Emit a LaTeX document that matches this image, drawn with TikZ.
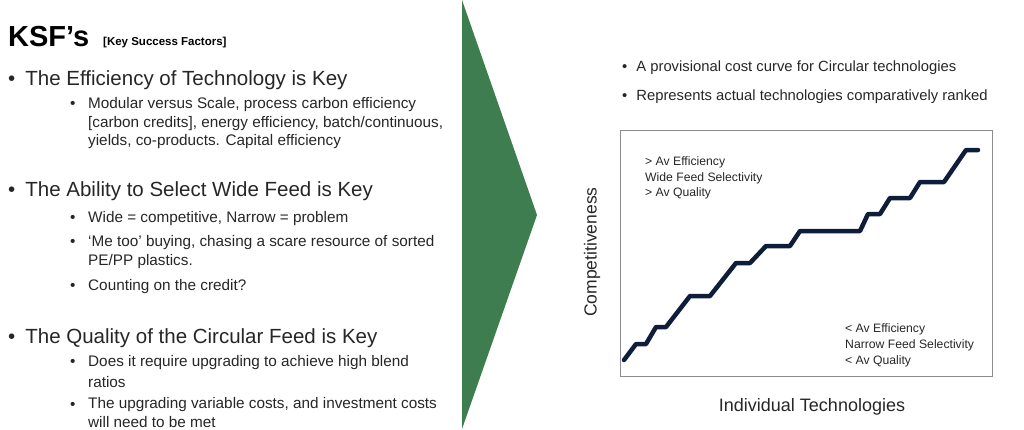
\documentclass[tikz,border=0pt]{standalone}
\usepackage{fontspec}
\setmainfont{Liberation Sans}
\definecolor{ink}{HTML}{262626}
\definecolor{arrowgreen}{HTML}{3E7D4F}
\definecolor{navy}{HTML}{0E1E3A}
\tikzset{
  head/.style={anchor=west,inner sep=0pt,text=ink,font=\fontsize{20.5}{23}\selectfont},
  sub/.style={anchor=west,inner sep=0pt,text=ink,font=\fontsize{15.3}{17}\selectfont},
  note/.style={anchor=west,inner sep=0pt,text=ink,font=\fontsize{12.2}{14}\selectfont},
}
\begin{document}
\begin{tikzpicture}[x=1pt,y=-1pt]
\useasboundingbox (0,0) rectangle (1024,429);
% left column
\node[anchor=west,inner sep=0pt,font=\bfseries\fontsize{29}{31}\selectfont] (title) at (8,37) {KSF’s};
\node[anchor=west,inner sep=0pt,font=\bfseries\fontsize{11.5}{13}\selectfont] (subtitle) at (103,43) {[Key Success Factors]};
\foreach \y/\t in {80/The Efficiency of Technology is Key,191/The Ability to Select Wide Feed is Key,338/The Quality of the Circular Feed is Key}
  \node[head] at (8,\y) {•\hspace{10pt}\t};
\foreach \y in {105,219,243,287,363,406}
  \node[sub] at (70,\y) {•};
\foreach \y/\t in {105/{Modular versus Scale, process carbon efficiency},
  124/{[carbon credits], energy efficiency, batch/continuous,},
  142/{yields, co-products. Capital efficiency},
  219/{Wide = competitive, Narrow = problem},
  243/{‘Me too’ buying, chasing a scare resource of sorted},
  262/{PE/PP plastics.},
  287/{Counting on the credit?},
  363/{Does it require upgrading to achieve high blend},
  382/{ratios},
  405/{The upgrading variable costs, and investment costs},
  422/{will need to be met}}
  \node[sub] at (88,\y) {\t};
% arrow
\fill[arrowgreen] (462,0) -- (537,215) -- (462,429) -- cycle;
% right column
\node[sub,font=\fontsize{14.8}{17}\selectfont] (b1) at (622,68) {•\hspace{9pt}A provisional cost curve for Circular technologies};
\node[sub,font=\fontsize{14.8}{17}\selectfont] (b2) at (622,97) {•\hspace{9pt}Represents actual technologies comparatively ranked};
\draw[black!45,line width=1pt] (620,130) rectangle (992,376);
\draw[navy,line width=4.5pt,line join=round,line cap=round]
  (624,360) -- (636,344) -- (646,344) -- (656,327) -- (666,327) -- (690,296) -- (710,296)
  -- (736,263) -- (750,263) -- (766,246) -- (790,246) -- (800,231) -- (860,231)
  -- (868,214) -- (880,214) -- (890,198) -- (910,198) -- (920,182) -- (944,182)
  -- (966,150) -- (978,150);
\node[note] at (645,162) {> Av Efficiency};
\node[note] at (645,178) {Wide Feed Selectivity};
\node[note] at (645,193) {> Av Quality};
\node[note] at (845,329) {< Av Efficiency};
\node[note] at (845,345) {Narrow Feed Selectivity};
\node[note] at (845,361) {< Av Quality};
\node[rotate=90,inner sep=0pt,text=ink,font=\fontsize{17.5}{19}\selectfont] (ylab) at (592,252) {Competitiveness};
\node[inner sep=0pt,text=ink,font=\fontsize{18}{20}\selectfont] (xlab) at (812,407) {Individual Technologies};
\end{tikzpicture}
\end{document}
